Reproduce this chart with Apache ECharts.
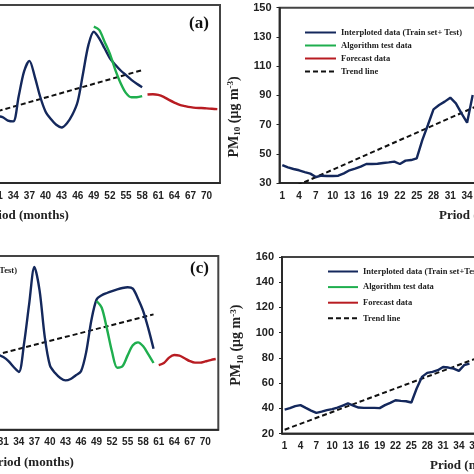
<!DOCTYPE html>
<html><head><meta charset="utf-8">
<script src="https://cdn.jsdelivr.net/npm/echarts@6/dist/echarts.min.js"></script>
<style>html,body{margin:0;padding:0;background:#fff}#c{width:474px;height:474px}</style>
</head><body><div id="c"></div>
<script>
// ---------- data ----------
const months = Array.from({length: 72}, (_, i) => String(i + 1));
const xTickLabelStep = 3;

// panel (a)
const aBlueStart = 30;
const aBlue = [37.4,37.4,37,35.1,34.6,48.6,62.6,68.6,59.8,48.6,40.2,35.9,32.7,31.2,33.6,38.3,45.8,61.7,77.6,85,81.3,75.7,70.1,66.4,63.2,60.6,57.9,55.7,53.8];
const aGreenStart = 49;
const aGreen = [87.9,86,79.4,72.5,63.6,56.1,50.5,48.2,48.2,48.8];
const aRedStart = 59;
const aRed = [49.7,49.9,49.5,48.4,46.7,45.2,43.9,43.2,42.6,42.2,42.1,41.9,41.7,41.5];
const aTrend = [[1, 14.6], [58, 63.4]];

// panel (b)
const bBlueStart = 1;
const bBlue = [42.3,40.7,39.6,38.7,37.5,36.4,34.1,35,34.8,34.8,35,36.6,38.7,39.8,41.2,43,43,43.2,43.7,44.1,44.6,43,45.3,45.7,46.9,59.4,69.7,80.4,83.4,85.7,88.4,84.5,77.7,71.3,90.2];
const bTrend = [[1, 23.9], [58, 120.2]];
const bYTicks = [30, 150, 20];

// panel (c)
const cBlueStart = 30;
const cBlue = [43.2,41.8,39.5,36.1,33.2,49.5,72.6,93.7,80.2,53.4,37,32.6,29.8,28.4,29.2,31.3,33.6,44.7,63,75,77.4,78.7,79.8,80.8,81.6,82,81.2,75.4,68.3,58.2,46.6];
const cGreenStart = 49;
const cGreen = [74.1,70.2,58.2,44.7,35.7,36.5,42.8,48.6,50.3,48,43.4,38.4];
const cRedStart = 61;
const cRed = [37.2,38.4,41.5,43,42.6,41.1,39.5,38.6,38.6,39.3,40.1,40.7];
const cTrend = [[1, 21.3], [60, 66.4]];

// panel (d)
const dBlueStart = 1;
const dBlue = [39,40.1,41.7,42.5,40.3,38.2,36.4,37.4,38.5,39.3,40.6,42.2,43.8,42.2,40.6,40.3,40.3,40.3,40.1,42.5,44.3,46.4,45.9,45.6,44.6,55.7,64.9,68.1,68.9,70.2,72.8,72.3,71.5,69.7,74.2,75.5];
const dTrend = [[1, 23], [60, 115]];
const dYTicks = [20, 160, 20];

const nameBlueB = 'Interploted data (Train set+ Test)';
const nameBlueD = 'Interploted data (Train set+Test)';
const nameGreen = 'Algorithm test data';
const nameRed = 'Forecast data';
const nameTrend = 'Trend line';
const xTitle = 'Priod (months)';
const panelLabels = ['(a)', '(c)'];

// ---------- helpers ----------
function pad(start, vals) {
  const out = new Array(months.length).fill(null);
  vals.forEach((v, i) => { out[start - 1 + i] = v; });
  return out;
}
function padPts(pts) {
  const out = new Array(months.length).fill(null);
  pts.forEach(p => { out[p[0] - 1] = p[1]; });
  return out;
}
const BLUE = '#14285c', GREEN = '#1fae4e', RED = '#b81c22';
const SERIF = '"Liberation Serif", "Times New Roman", serif';
const SANS = '"Liberation Sans", Arial, sans-serif';

const grids = [
  {left: -166.6, top: 5, width: 386.6, height: 178},
  {left: 279.5, top: 7.7, width: 403.2, height: 175.3},
  {left: -154.7, top: 256, width: 373, height: 173.7},
  {left: 282, top: 257, width: 380.2, height: 176.5}
].map(g => Object.assign(g, {show: true, borderColor: '#444', borderWidth: 2, containLabel: false, outerBoundsMode: 'none'}));

function xAxis(i) {
  return {
    type: 'category', gridIndex: i, data: months, boundaryGap: true,
    axisLine: {lineStyle: {color: '#222', width: 1.5}},
    axisTick: {interval: 0, length: 3, lineStyle: {color: '#222', width: 1}},
    axisLabel: {interval: xTickLabelStep - 1, color: '#222', fontFamily: SANS, fontWeight: 'bold', fontSize: 10, margin: 8, hideOverlap: false},
    name: xTitle, nameLocation: 'middle', nameGap: 26,
    nameTextStyle: {fontFamily: SERIF, fontWeight: 'bold', fontSize: 13, color: '#222'},
    splitLine: {show: false}
  };
}
const yName = '{a|PM}{s|10}{a| (μg m}{p|-3}{a|)}';
const yRich = {
  a: {fontFamily: SERIF, fontWeight: 'bold', fontSize: 14, color: '#222', lineHeight: 16},
  s: {fontFamily: SERIF, fontWeight: 'bold', fontSize: 9, color: '#222', lineHeight: 16, verticalAlign: 'bottom'},
  p: {fontFamily: SERIF, fontWeight: 'bold', fontSize: 9, color: '#222', lineHeight: 16, verticalAlign: 'top'}
};
function yAxisVis(i, ticks, padRight) {
  return {
    type: 'value', gridIndex: i, min: ticks[0], max: ticks[1], interval: ticks[2],
    axisLine: {show: true, lineStyle: {color: '#222', width: 1.5}},
    axisTick: {show: true, length: 3, lineStyle: {color: '#222'}},
    axisLabel: {color: '#222', fontFamily: SANS, fontWeight: 'bold', fontSize: 11, margin: 8},
    splitLine: {show: false},
    name: yName, nameLocation: 'middle', nameGap: 25,
    nameTextStyle: {rich: yRich, padding: [0, padRight, 0, 0]}
  };
}
function yAxisHidden(i) {
  return {type: 'value', gridIndex: i, min: 0, max: 100, show: false, splitLine: {show: false}};
}
function line(name, i, data, color, smooth, dashed) {
  return {
    name, type: 'line', xAxisIndex: i, yAxisIndex: i, data, symbol: 'none', smooth,
    connectNulls: !!dashed, clip: true,
    lineStyle: {color, width: dashed ? 2 : 2.4, type: dashed ? [5, 3] : 'solid'},
    itemStyle: {color}
  };
}
function legend(left, top, gap, names, w) {
  return {
    orient: 'vertical', left, top, itemWidth: w, itemHeight: 9, itemGap: gap,
    data: names, selectedMode: false, outerBoundsMode: 'none',
    itemStyle: {opacity: 0, borderWidth: 0},
    textStyle: {fontFamily: SERIF, fontWeight: 'bold', fontSize: 8.5, color: '#222', lineHeight: 9}
  };
}

const option = {
  animation: false,
  backgroundColor: '#fff',
  grid: grids,
  xAxis: [0, 1, 2, 3].map(xAxis),
  yAxis: [yAxisHidden(0), yAxisVis(1, bYTicks, 43), yAxisHidden(2), yAxisVis(3, dYTicks, 0)],
  legend: [
    legend(299, 23, 4, [nameBlueB, nameGreen, nameRed, nameTrend], 31),
    legend(-146, 261, 4, [nameBlueB, nameGreen, nameRed, nameTrend], 31),
    legend(322, 262, 6.6, [nameBlueD, nameGreen, nameRed, nameTrend], 30)
  ],
  graphic: [
    {type: 'text', left: 189, top: 15, style: {text: panelLabels[0], font: 'bold 17px ' + SERIF, fill: '#111'}},
    {type: 'text', left: 190, top: 260, style: {text: panelLabels[1], font: 'bold 17px ' + SERIF, fill: '#111'}}
  ],
  series: [
    line(nameTrend, 0, padPts(aTrend), '#111', false, true),
    line(nameBlueB, 0, pad(aBlueStart, aBlue), BLUE, 0.3),
    line(nameGreen, 0, pad(aGreenStart, aGreen), GREEN, 0.3),
    line(nameRed, 0, pad(aRedStart, aRed), RED, 0.3),

    line(nameTrend, 1, padPts(bTrend), '#111', false, true),
    line(nameBlueB, 1, pad(bBlueStart, bBlue), BLUE, false),

    line(nameTrend, 2, padPts(cTrend), '#111', false, true),
    line(nameBlueB, 2, pad(cBlueStart, cBlue), BLUE, 0.3),
    line(nameGreen, 2, pad(cGreenStart, cGreen), GREEN, 0.3),
    line(nameRed, 2, pad(cRedStart, cRed), RED, 0.3),

    line(nameTrend, 3, padPts(dTrend), '#111', false, true),
    line(nameBlueD, 3, pad(dBlueStart, dBlue), BLUE, false)
  ]
};
const chart = echarts.init(document.getElementById('c'), null, {renderer: 'canvas'});
chart.setOption(option);
</script>
</body></html>
